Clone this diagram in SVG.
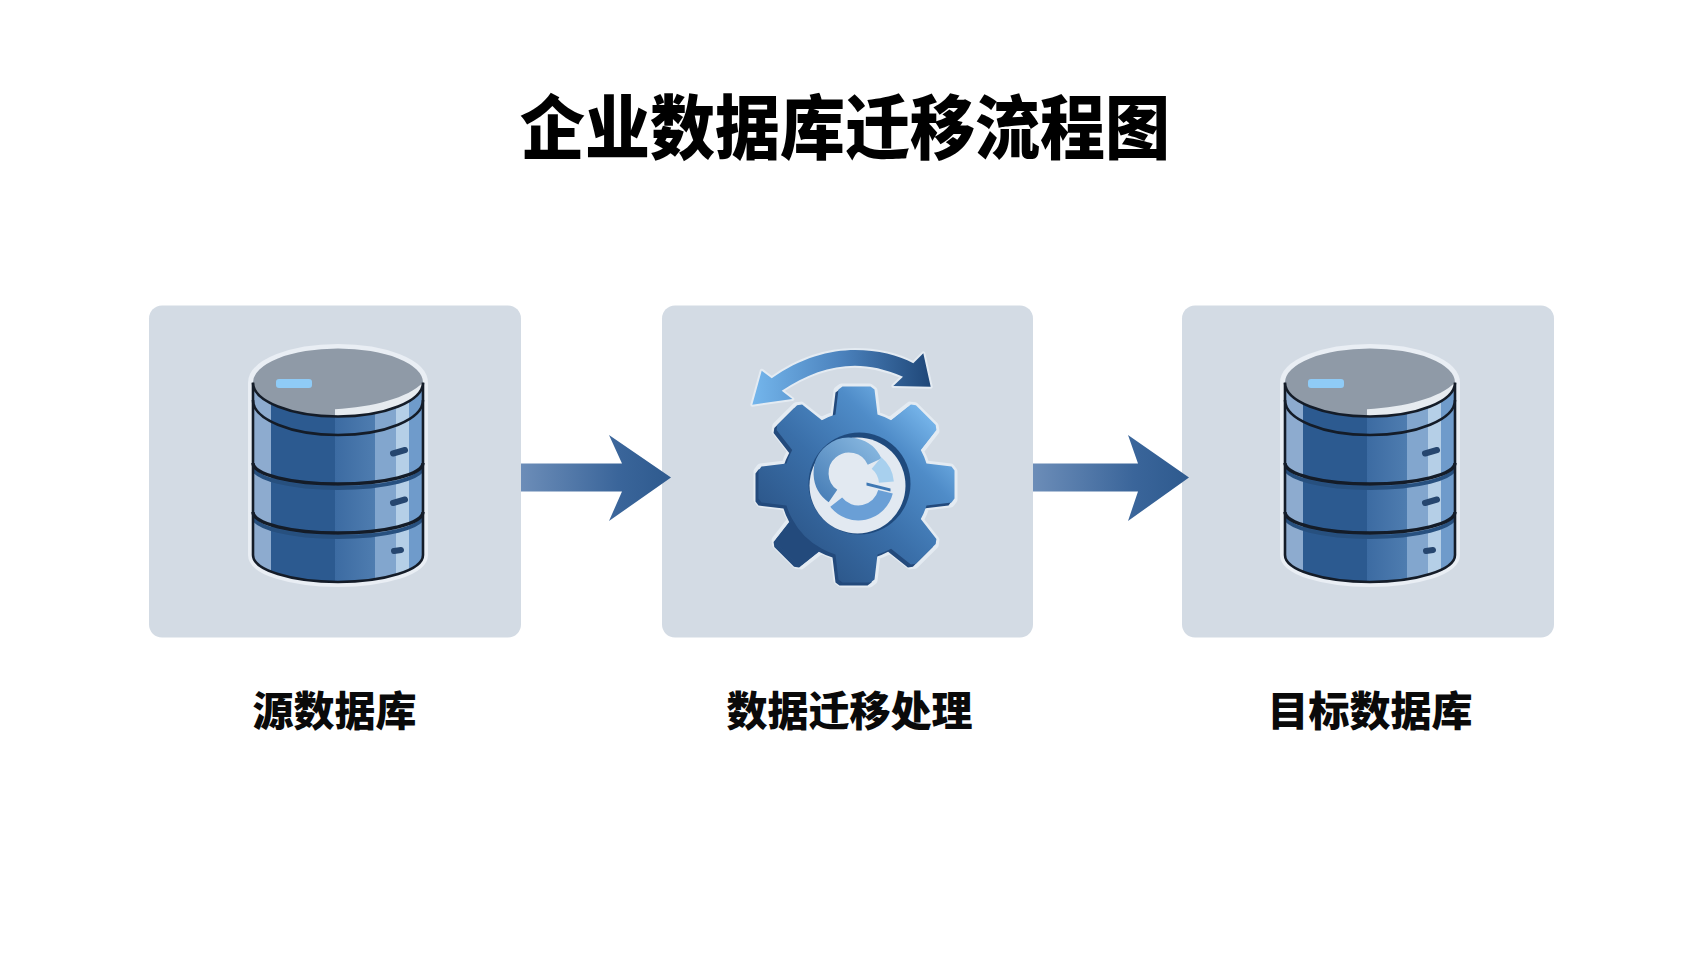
<svg xmlns="http://www.w3.org/2000/svg" xmlns:xlink="http://www.w3.org/1999/xlink" width="1696" height="960" viewBox="0 0 1696 960">
<style>
.card{fill:#d3dbe4}
.title{font-family:"Noto Sans CJK SC","Liberation Sans",sans-serif;font-weight:900;font-size:65px;fill:#000;text-anchor:middle}
.label{font-family:"Noto Sans CJK SC","Liberation Sans",sans-serif;font-weight:900;font-size:41px;fill:#0a0a0a;text-anchor:middle}
.ln{fill:none;stroke:#141c28;stroke-width:2.6}
.sh{fill:none;stroke:#27507f;stroke-width:4}
.slot{fill:none;stroke:#26466f;stroke-width:6;stroke-linecap:round}
.halo{fill:#e9eef4;stroke:#e9eef4;stroke-width:10;stroke-linejoin:round}
</style>
<defs>
<linearGradient id="a1" gradientUnits="userSpaceOnUse" x1="521" y1="0" x2="671" y2="0"><stop offset="0" stop-color="#6c8db8"/><stop offset="0.65" stop-color="#3a659a"/><stop offset="1" stop-color="#2e5a8e"/></linearGradient>
<linearGradient id="a2" gradientUnits="userSpaceOnUse" x1="1033" y1="0" x2="1189" y2="0"><stop offset="0" stop-color="#6c8db8"/><stop offset="0.65" stop-color="#3a659a"/><stop offset="1" stop-color="#2e5a8e"/></linearGradient>
<linearGradient id="mid" x1="0" y1="0" x2="1" y2="0"><stop offset="0" stop-color="#3c6ba2"/><stop offset="1" stop-color="#4f7db0"/></linearGradient>
<linearGradient id="gear" x1="0.1" y1="0.9" x2="0.9" y2="0.1"><stop offset="0" stop-color="#284f80"/><stop offset="0.45" stop-color="#3a6fa9"/><stop offset="0.75" stop-color="#4f8cc8"/><stop offset="1" stop-color="#7fbef2"/></linearGradient>
<linearGradient id="rot" gradientUnits="userSpaceOnUse" x1="752" y1="0" x2="931" y2="0"><stop offset="0" stop-color="#74b6ec"/><stop offset="0.5" stop-color="#4b82bd"/><stop offset="1" stop-color="#1f4778"/></linearGradient>
<linearGradient id="seg" x1="0" y1="1" x2="1" y2="0"><stop offset="0" stop-color="#4a80b8"/><stop offset="1" stop-color="#86b6df"/></linearGradient>
<clipPath id="body"><path d="M-85 383V555A85 27 0 0 0 85 555V383Z"/></clipPath>
<g id="db">
<path class="halo" d="M-85 383A85 34 0 0 1 85 383V555A85 27 0 0 1 -85 555Z"/>
<g clip-path="url(#body)">
<rect x="-85" y="383" width="18" height="200" fill="#8dabcf"/>
<rect x="-67" y="383" width="65" height="200" fill="#2c5a90"/>
<rect x="-3" y="383" width="41" height="200" fill="url(#mid)"/>
<rect x="37" y="383" width="22" height="200" fill="#82a6ce"/>
<rect x="58" y="383" width="14" height="200" fill="#b5cfe7"/>
<rect x="71" y="383" width="14" height="200" fill="#6f9bcb"/>
<path class="sh" d="M-85 467A85 21 0 0 0 85 467"/>
<path class="sh" d="M-85 516A85 21 0 0 0 85 516"/>
</g>
<path class="ln" d="M-85 400A85 35 0 0 0 85 400"/>
<path class="ln" style="stroke-width:3.4" d="M-85 463A85 21 0 0 0 85 463"/>
<path class="ln" style="stroke-width:3.4" d="M-85 512A85 21 0 0 0 85 512"/>
<path class="ln" d="M-85 383V555A85 27 0 0 0 85 555V383"/>
<ellipse cx="0" cy="382.5" rx="85" ry="34" fill="#e6ebf0"/>
<path fill="#8f9aa7" d="M-85 382.5A85 34 0 0 1 85 382.5C70 398 35 407 -3 409.3V416.5A85 34 0 0 1 -85 382.5Z"/>
<path class="ln" d="M-85 382.5A85 34 0 0 0 85 382.5"/>
<rect x="-62" y="379" width="36" height="9" rx="3" fill="#8fcbf6"/>
<path class="slot" d="M55 453.5L67 450"/>
<path class="slot" d="M55 503L67 499.5"/>
<path class="slot" d="M56 551L63 550"/>
</g>
<path id="gearShape" d="M-21-70L-18-95L-14-98H14L18-95L21-70A70 70 0 0 1 34.6-64.3L54.4-79.9L59.4-79.2L79.2-59.4L79.9-54.4L64.3-34.6A70 70 0 0 1 70-21L95-18L98-14V14L95 18L70 21A70 70 0 0 1 64.3 34.6L79.9 54.4L79.2 59.4L59.4 79.2L54.4 79.9L34.6 64.3A70 70 0 0 1 21 70L18 95L14 98H-14L-18 95L-21 70A70 70 0 0 1 -34.6 64.3L-54.4 79.9L-59.4 79.2L-79.2 59.4L-79.9 54.4L-64.3 34.6A70 70 0 0 1 -70 21L-95 18L-98 14V-14L-95-18L-70-21A70 70 0 0 1 -64.3-34.6L-79.9-54.4L-79.2-59.4L-59.4-79.2L-54.4-79.9L-34.6-64.3A70 70 0 0 1 -21-70Z"/>
</defs>
<rect width="1696" height="960" fill="#fff"/>
<text class="title" transform="translate(845 154) scale(1 1.08)">企业数据库迁移流程图</text>
<g id="node-source">
<rect class="card" x="149" y="305.5" width="372" height="332" rx="13"/>
<use href="#db" xlink:href="#db" transform="translate(338 0)"/>
<text class="label" x="334.5" y="726">源数据库</text>
</g>
<g id="node-process">
<rect class="card" x="662" y="305.5" width="371" height="332" rx="13"/>
<g id="rotate-arrow">
<path fill="url(#rot)" stroke="#e4ebf2" stroke-width="4" paint-order="stroke" stroke-linejoin="round" d="M752.3 404.7L761.7 370.7L771.7 378.3C800 358 830 350 855 350C878 350 898 355 913.3 363.3L923.3 353.3L930.7 386.7L893.3 386L903 376.7C885 369 870 365.7 855 365.7C830 365.7 805 375 781.7 390.7L792.3 399Z"/>
</g>
<g id="gear-icon" transform="translate(856.5 484.5)">
<use href="#gearShape" xlink:href="#gearShape" transform="translate(-1 1)" fill="#e4ebf2" stroke="#e4ebf2" stroke-width="8" stroke-linejoin="round"/>
<use href="#gearShape" xlink:href="#gearShape" transform="translate(-3 3)" fill="#234a7c"/>
<use href="#gearShape" xlink:href="#gearShape" fill="url(#gear)"/>
<path fill="#234a7c" d="M-34.6 64.3L-54.4 79.9L-59.4 79.2L-79.2 59.4L-79.9 54.4L-64.3 34.6A70 70 0 0 0 -34.6 64.3Z"/>
<circle cx="3" cy="-1" r="51" fill="#1f4a7d"/>
<circle cx="1" cy="1" r="48" fill="#e2e9f1"/>
<path d="M18.1-22.9A28 28 0 1 0 -23.5 11.5" fill="none" stroke="url(#seg)" stroke-width="15"/>
<path d="M-20.3 17.6A28 28 0 0 0 29 7.2" fill="none" stroke="#6a9fd6" stroke-width="15"/>
<path d="M29.9-2.4A28 28 0 0 0 20-21.4" fill="none" stroke="#a8d0ee" stroke-width="15"/>
<path d="M10-2L34 4L34 7L10 1Z" fill="#3f78b4"/>
</g>
<text class="label" x="849.5" y="726">数据迁移处理</text>
</g>
<g id="node-target">
<rect class="card" x="1182" y="305.5" width="372" height="332" rx="13"/>
<use href="#db" xlink:href="#db" transform="translate(1370 0)"/>
<text class="label" x="1370" y="726">目标数据库</text>
</g>
<g id="connectors">
<path fill="url(#a1)" d="M521 463.5H622L609 435L671 477.5L609 521L622 491.5H521Z"/>
<path fill="url(#a2)" d="M1033 463.5H1138L1128 435L1189 477.5L1128 521L1138 491.5H1033Z"/>
</g>
</svg>
